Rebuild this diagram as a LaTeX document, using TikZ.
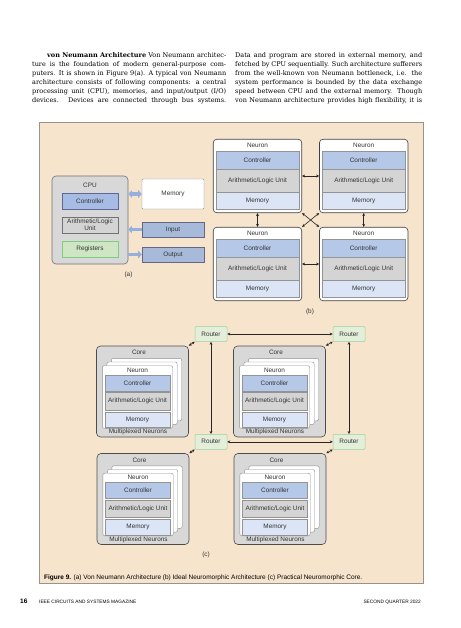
\documentclass[tikz,border=0pt]{standalone}
\usepackage{fontspec}
\setmainfont{DejaVu Serif}
\setsansfont{Liberation Sans}
\usetikzlibrary{arrows.meta,positioning}

\definecolor{figbg}{RGB}{246,228,205}
\definecolor{framegray}{RGB}{150,146,140}
\definecolor{boxgray}{RGB}{216,216,216}
\definecolor{ctrlblue}{RGB}{182,200,232}
\definecolor{ctrlblueA}{RGB}{166,188,228}
\definecolor{alugray}{RGB}{212,212,212}
\definecolor{memblue}{RGB}{220,229,245}
\definecolor{reggreen}{RGB}{206,230,196}
\definecolor{iogray}{RGB}{168,186,218}
\definecolor{routergreen}{RGB}{227,239,218}
\definecolor{arrowblue}{RGB}{150,176,222}
\definecolor{edgegray}{RGB}{120,120,120}

\begin{document}
\begin{tikzpicture}
      [x=1pt,y=-1pt,>={Stealth[length=3pt,width=2.8pt]},
      txt/.style={font=\sffamily\fontsize{6.4}{7}\selectfont,text=black!80,inner sep=0pt},
      body/.style={anchor=north west,inner sep=0pt,align=justify,font=\fontsize{6.5}{9}\selectfont},
      band/.style={txt,draw=edgegray!80,line width=0.4pt},
      neuron tile/.style={draw=black!75,line width=0.6pt,rounded corners=3.5pt,fill=white,
        minimum width=88.5pt,minimum height=73.5pt},
      tile ctrl/.style={band,fill=ctrlblue,minimum width=83pt,minimum height=18.3pt},
      tile alu/.style={band,fill=alugray,minimum width=83pt,minimum height=22.4pt},
      tile mem/.style={band,fill=memblue,minimum width=83pt,minimum height=17.6pt},
      core box/.style={draw=black!70,line width=0.6pt,rounded corners=4pt,fill=boxgray,
        minimum width=92pt,minimum height=91pt},
      card/.style={draw=black!45,line width=0.4pt,rounded corners=2pt,fill=white,
        minimum width=70.4pt,minimum height=62.6pt},
      card ctrl/.style={band,fill=ctrlblue,minimum width=65pt,minimum height=15.7pt},
      card alu/.style={band,fill=alugray,minimum width=65pt,minimum height=17.7pt},
      card mem/.style={band,fill=memblue,minimum width=65pt,minimum height=15.6pt},
      router/.style={txt,draw=black!45!green!40,line width=0.5pt,rounded corners=1pt,
        fill=routergreen,minimum width=32pt,minimum height=15pt},
      link/.style={<->,line width=0.6pt,black!85},
      fat/.style={line width=3.6pt,arrowblue,-{Triangle[length=3.6pt,width=7.6pt]}},
      fat both/.style={line width=3.6pt,arrowblue,
        {Triangle[length=3.6pt,width=7.6pt]}-{Triangle[length=3.6pt,width=7.6pt]}}]
      \useasboundingbox (0,0) rectangle (460,628);
      \fill[white] (0,0) rectangle (460,628);
      % running text above the figure
      \node[body,text width=194pt] (lcol) at (32,50.7) {\tolerance=10000 \hyphenpenalty=10000
        \strut\hspace*{15pt}\textbf{von Neumann Architecture} Von Neumann architec-\linebreak
        ture is the foundation of modern general-purpose com-\linebreak
        puters. It is shown in Figure 9(a). A typical von Neumann\linebreak
        architecture consists of following components: a central\linebreak
        processing unit (CPU), memories, and input/output (I/O)\linebreak
        devices. Devices are connected through bus systems.\parfillskip=0pt\par};
      \node[body,text width=187pt] (rcol) at (235,50.7) {\tolerance=10000 \hyphenpenalty=10000
        \strut Data and program are stored in external memory, and\linebreak
        fetched by CPU sequentially. Such architecture sufferers\linebreak
        from the well-known von Neumann bottleneck, i.e. the\linebreak
        system performance is bounded by the data exchange\linebreak
        speed between CPU and the external memory. Though\linebreak
        von Neumann architecture provides high flexibility, it is\parfillskip=0pt\par};
      % figure frame
      \filldraw[fill=figbg,draw=framegray,line width=0.6pt] (39,122) rectangle (423,583);
      % (a)
      \node[core box,minimum width=76pt,minimum height=88pt,draw=black!55] (cpu) at (90,220) {};
      \node[txt] (cpul) at (90,185) {CPU};
      \node[band,fill=ctrlblueA,draw=blue!30!black!60,minimum width=56pt,minimum height=16pt] (actl) at (90,201) {Controller};
      \node[band,fill=alugray,draw=black!55,minimum width=56pt,minimum height=16pt,align=center,
        font=\sffamily\fontsize{6.4}{6.6}\selectfont] (aalu) at (90,225) {Arithmetic/Logic\\Unit};
      \node[band,fill=reggreen,draw=black!40!green!50,minimum width=56pt,minimum height=16pt] (areg) at (90,249) {Registers};
      \node[band,fill=white,draw=black!45,rounded corners=1pt,minimum width=62pt,minimum height=30pt] (amem) at (173,194) {Memory};
      \node[band,fill=iogray,draw=blue!20!black!60,minimum width=62pt,minimum height=15pt] (ain) at (173,229.5) {Input};
      \node[band,fill=iogray,draw=blue!20!black!60,minimum width=62pt,minimum height=15pt] (aout) at (173,254.5) {Output};
      \draw[fat both] (cpu.east |- amem.west) -- (amem.west);
      \draw[fat] (ain.west) -- (ain.west -| cpu.east);
      \draw[fat] (aout.west -| cpu.east) -- (aout.west);
      \node[txt] (capa) at (128.5,274.5) {(a)};
      % (b)
      \node[neuron tile] (n1) at (257.5,176) {};
      \node[txt] (n1l) at (257.5,145.7) {Neuron};
      \node[tile ctrl] (n1c) at (257.5,160.2) {Controller};
      \node[tile alu] (n1a) at (257.5,180.6) {Arithmetic/Logic Unit};
      \node[tile mem] (n1m) at (257.5,200.6) {Memory};
      \node[neuron tile] (n2) at (363.7,176) {};
      \node[txt] (n2l) at (363.7,145.7) {Neuron};
      \node[tile ctrl] (n2c) at (363.7,160.2) {Controller};
      \node[tile alu] (n2a) at (363.7,180.6) {Arithmetic/Logic Unit};
      \node[tile mem] (n2m) at (363.7,200.6) {Memory};
      \node[neuron tile] (n3) at (257.5,264) {};
      \node[txt] (n3l) at (257.5,233.7) {Neuron};
      \node[tile ctrl] (n3c) at (257.5,248.2) {Controller};
      \node[tile alu] (n3a) at (257.5,268.6) {Arithmetic/Logic Unit};
      \node[tile mem] (n3m) at (257.5,288.6) {Memory};
      \node[neuron tile] (n4) at (363.7,264) {};
      \node[txt] (n4l) at (363.7,233.7) {Neuron};
      \node[tile ctrl] (n4c) at (363.7,248.2) {Controller};
      \node[tile alu] (n4a) at (363.7,268.6) {Arithmetic/Logic Unit};
      \node[tile mem] (n4m) at (363.7,288.6) {Memory};
      \path (n1.east) edge[link] (n2.west);
      \path (n3.east) edge[link] (n4.west);
      \path (n1.south) edge[link] (n3.north);
      \path (n2.south) edge[link] (n4.north);
      \path (n1.south east) edge[link] (n4.north west);
      \path (n2.south west) edge[link] (n3.north east);
      \node[txt] (capb) at (310,312) {(b)};
      % (c)
      \node[router] (r1) at (211,334) {Router};
      \node[router] (r2) at (349,334) {Router};
      \node[router] (r3) at (211,441.8) {Router};
      \node[router] (r4) at (349,441.8) {Router};
      \node[core box] (c1) at (142.5,391.5) {};
      \node[txt] (c1t) at (139,352.5) {Core};
      \node[card] (c1b2) at (146.5,389.6) {};
      \node[card] (c1b1) at (142,393.3) {};
      \node[card] (c1f) at (137.5,397) {};
      \node[txt] (c1n) at (137.5,370) {Neuron};
      \node[card ctrl] (c1c) at (137.5,383) {Controller};
      \node[card alu] (c1a) at (137.5,401.3) {Arithmetic/Logic Unit};
      \node[card mem] (c1m) at (137.5,419.7) {Memory};
      \node[txt] (c1x) at (138,432) {Multiplexed Neurons};
      \node[core box] (c2) at (279.5,391.5) {};
      \node[txt] (c2t) at (276,352.5) {Core};
      \node[card] (c2b2) at (283.5,389.6) {};
      \node[card] (c2b1) at (279,393.3) {};
      \node[card] (c2f) at (274.5,397) {};
      \node[txt] (c2n) at (274.5,370) {Neuron};
      \node[card ctrl] (c2c) at (274.5,383) {Controller};
      \node[card alu] (c2a) at (274.5,401.3) {Arithmetic/Logic Unit};
      \node[card mem] (c2m) at (274.5,419.7) {Memory};
      \node[txt] (c2x) at (275,432) {Multiplexed Neurons};
      \node[core box] (c3) at (143,499) {};
      \node[txt] (c3t) at (139.5,460) {Core};
      \node[card] (c3b2) at (147,497.1) {};
      \node[card] (c3b1) at (142.5,500.8) {};
      \node[card] (c3f) at (138,504.5) {};
      \node[txt] (c3n) at (138,477.5) {Neuron};
      \node[card ctrl] (c3c) at (138,490.5) {Controller};
      \node[card alu] (c3a) at (138,508.8) {Arithmetic/Logic Unit};
      \node[card mem] (c3m) at (138,527.2) {Memory};
      \node[txt] (c3x) at (138.5,539.5) {Multiplexed Neurons};
      \node[core box] (c4) at (280,499) {};
      \node[txt] (c4t) at (276.5,460) {Core};
      \node[card] (c4b2) at (284,497.1) {};
      \node[card] (c4b1) at (279.5,500.8) {};
      \node[card] (c4f) at (275,504.5) {};
      \node[txt] (c4n) at (275,477.5) {Neuron};
      \node[card ctrl] (c4c) at (275,490.5) {Controller};
      \node[card alu] (c4a) at (275,508.8) {Arithmetic/Logic Unit};
      \node[card mem] (c4m) at (275,527.2) {Memory};
      \node[txt] (c4x) at (275.5,539.5) {Multiplexed Neurons};
      \path (r1.east) edge[link] (r2.west);
      \path (r3.east) edge[link] (r4.west);
      \path (r1.south) edge[link] (r3.north);
      \path (r2.south) edge[link] (r4.north);
      \path (r1.south west) edge[link] (c1.north east);
      \path (r2.south west) edge[link] (c2.north east);
      \path (r3.south west) edge[link] (c3.north east);
      \path (r4.south west) edge[link] (c4.north east);
      \node[txt] (capc) at (206,555) {(c)};
      % caption and footer
      \node[anchor=base west,inner sep=0pt,font=\sffamily\fontsize{6.5}{7}\selectfont] (cap) at (44,579)
        {\textbf{Figure 9.} (a) Von Neumann Architecture (b) Ideal Neuromorphic Architecture (c) Practical Neuromorphic Core.};
      \node[anchor=base west,inner sep=0pt,font=\sffamily\bfseries\fontsize{6.5}{7}\selectfont] (pg) at (20,603) {16};
      \node[anchor=base west,inner sep=0pt,font=\sffamily\fontsize{4.8}{5}\selectfont] (mag) at (39,603) {IEEE CIRCUITS AND SYSTEMS MAGAZINE};
      \node[anchor=base east,inner sep=0pt,font=\sffamily\fontsize{4.8}{5}\selectfont] (qtr) at (421,603) {SECOND QUARTER 2022};
    \end{tikzpicture}
\end{document}
